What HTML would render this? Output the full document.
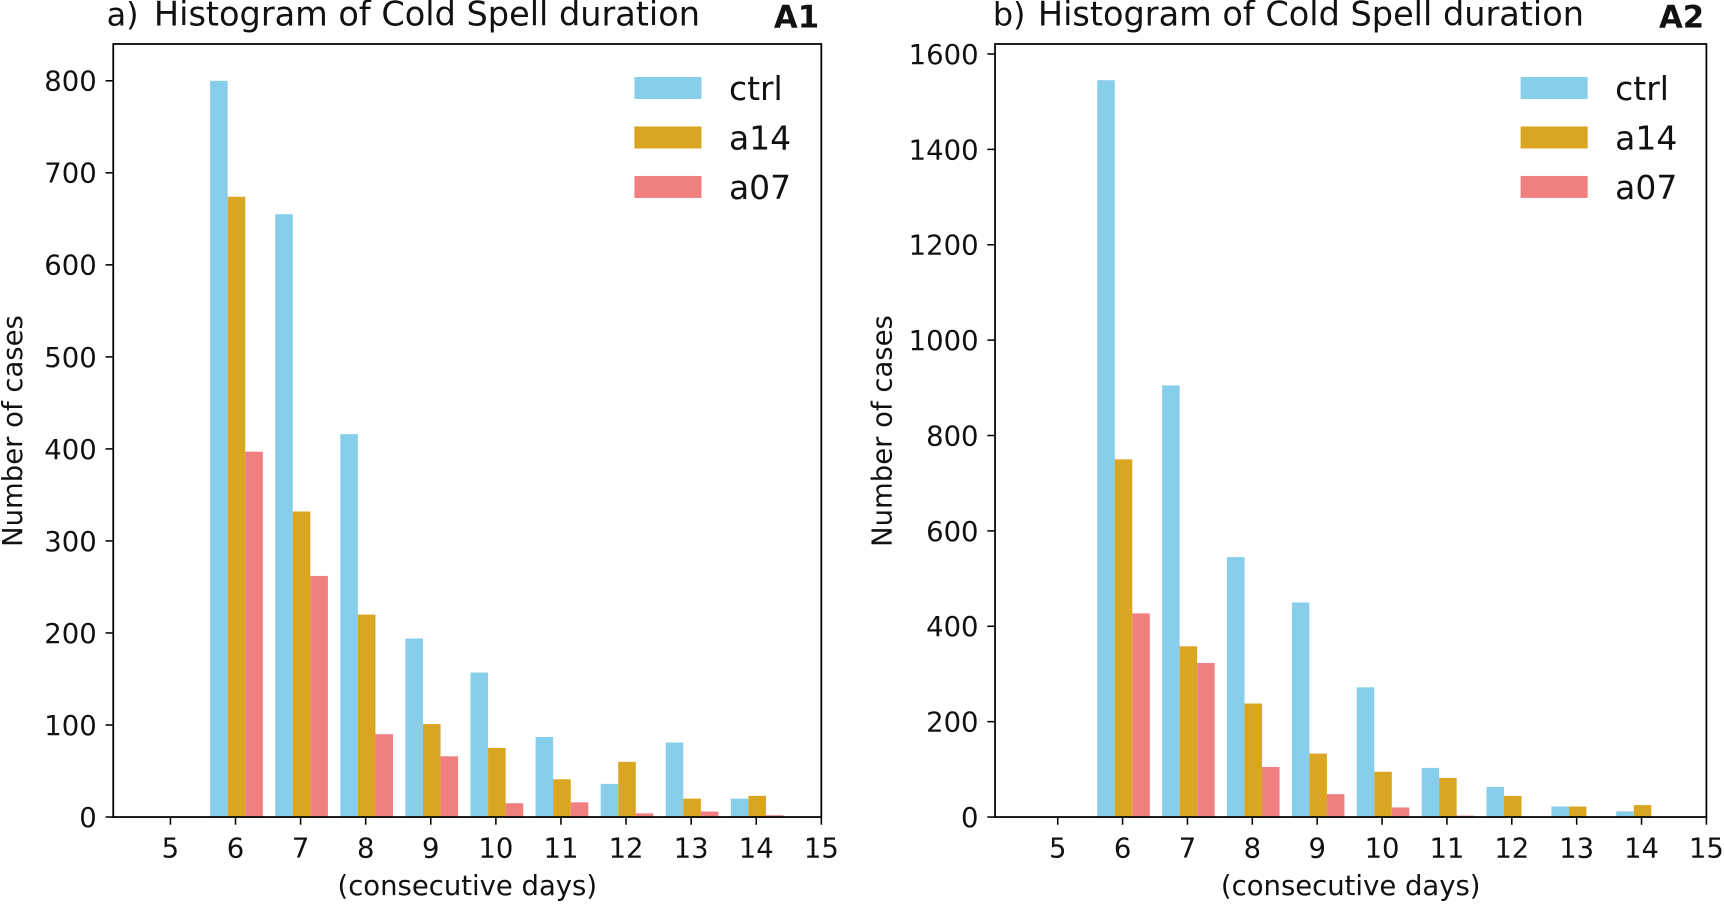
<!DOCTYPE html>
<html><head><meta charset="utf-8"><style>html,body{margin:0;padding:0;background:#fff}svg{display:block}text{font-family:"DejaVu Sans","Liberation Sans",sans-serif;fill:#111}</style></head>
<body>
<svg id="s" width="1724" height="905" viewBox="0 0 1568 823" preserveAspectRatio="none" xmlns="http://www.w3.org/2000/svg"></svg>
<script>
const s=document.getElementById('s');let h='';
const cols=['#87CEEB','#DAA520','#F08080'];
function panel(o){
 const {L,R,T,B,x5,x15,ymax,ticks,data,tl,tlx,tx,ax,ylx,legx}=o;
 const ux=(x15-x5)/10, X=v=>x5+(v-5)*ux, Y=v=>B-(B-T)*v/ymax;
 for(let k=0;k<3;k++)for(let i=0;i<9;i++){const d=6+i,v=data[k][i];if(v<=0)continue;
  const x0=X(d-0.39+k*0.27),x1=X(d-0.39+(k+1)*0.27);
  h+=`<rect x="${x0}" y="${Y(v)}" width="${x1-x0}" height="${B-Y(v)}" fill="${cols[k]}"/>`;}
 h+=`<rect x="${L}" y="${T}" width="${R-L}" height="${B-T}" fill="none" stroke="#000" stroke-width="1.6"/>`;
 for(let d=5;d<=15;d++){const x=X(d);h+=`<line x1="${x}" y1="${B}" x2="${x}" y2="${B+7}" stroke="#000" stroke-width="1.4"/><text x="${x}" y="${B+37}" font-size="25" text-anchor="middle">${d}</text>`;}
 for(const t of ticks){const y=Y(t);h+=`<line x1="${L-7}" y1="${y}" x2="${L}" y2="${y}" stroke="#000" stroke-width="1.4"/><text x="${L-15}" y="${y+9}" font-size="25" text-anchor="end">${t}</text>`;}
 h+=`<text x="${(L+R)/2}" y="814" font-size="25" text-anchor="middle">(consecutive days)</text>`;
 h+=`<text transform="translate(${ylx},392) rotate(-90)" font-size="25" text-anchor="middle">Number of cases</text>`;
 h+=`<text x="${tlx}" y="23" font-size="29">${tl}</text><text x="${tx}" y="23" font-size="30.5">Histogram of Cold Spell duration</text><text x="${R-2}" y="25" font-size="28" font-weight="bold" text-anchor="end">${ax}</text>`;
 ['ctrl','a14','a07'].forEach((n,k)=>{const y=70+k*45;h+=`<rect x="${legx}" y="${y}" width="61" height="20" fill="${cols[k]}"/><text x="${legx+86}" y="${y+21}" font-size="30">${n}</text>`;});
}
panel({L:103,R:747,T:40,B:743,x5:155,x15:747,ymax:840,ticks:[0,100,200,300,400,500,600,700,800],
 data:[[800,655,416,194,157,87,36,81,20],[674,332,220,101,75,41,60,20,23],[397,262,90,66,15,16,4,6,2]],
 tl:'a)',tlx:97,tx:140,ax:'A1',ylx:20,legx:577});
panel({L:905,R:1552,T:40,B:743,x5:962,x15:1552,ymax:1621,ticks:[0,200,400,600,800,1000,1200,1400,1600],
 data:[[1545,905,545,450,272,103,63,22,12],[750,358,238,133,95,82,44,22,25],[427,323,105,48,20,3,1,0,0]],
 tl:'b)',tlx:903,tx:944,ax:'A2',ylx:811,legx:1383});
s.innerHTML=h;
</script>
</body></html>
